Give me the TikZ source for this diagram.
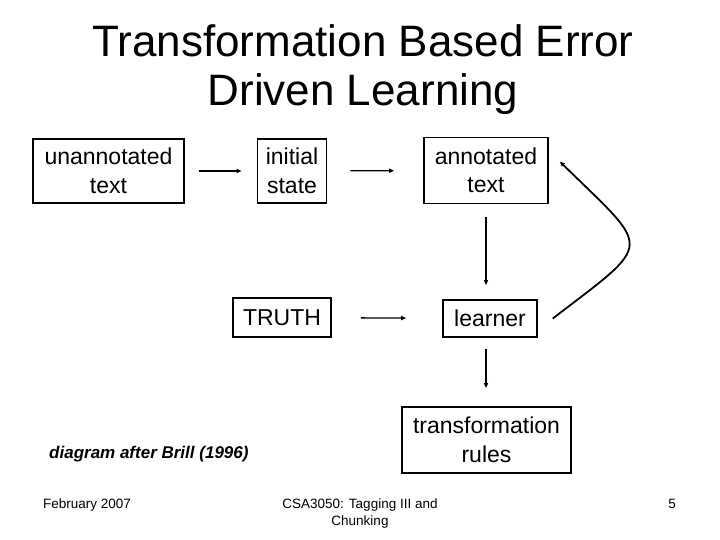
\documentclass[tikz,border=0pt]{standalone}
\usepackage{fontspec}
\setmainfont{Liberation Sans}
\usetikzlibrary{arrows.meta}
\begin{document}
\begin{tikzpicture}[x=1pt,y=-1pt,
  box/.style={draw,line width=1.6pt,inner sep=0pt,align=center,
    font=\fontsize{23}{28.5}\selectfont},
  arr/.style={line width=1.3pt,-{Triangle[length=5pt,width=4pt]}},
  foot/.style={font=\fontsize{13.5}{17}\selectfont,inner sep=0pt,anchor=base}]
\useasboundingbox (0,0) rectangle (720,540);
\node[anchor=base,inner sep=0pt,font=\fontsize{44}{50}\selectfont] (t1) at (363,57) {Transformation Based Error};
\node[anchor=base,inner sep=0pt,font=\fontsize{44}{50}\selectfont] (t2) at (363,106) {Driven Learning};

\node[box,minimum width=151pt,minimum height=64pt] (ua) at (108.5,171) {unannotated\\text};
\node[box,minimum width=69pt,minimum height=64pt] (init) at (292,171) {initial\\state};
\node[box,minimum width=124pt,minimum height=66pt] (ann) at (486,170.5) {annotated\\text};
\node[box,minimum width=98pt,minimum height=39pt] (truth) at (282,317.5) {TRUTH};
\node[box,minimum width=94pt,minimum height=37pt] (lrn) at (490,318.5) {learner};
\node[box,minimum width=169pt,minimum height=66pt] (tr) at (486.5,440) {transformation\\rules};

\draw[arr,shorten <=14pt,shorten >=15pt] (ua) -- (init);
\draw[arr,shorten <=23pt,shorten >=29pt] (init) -- (ann);
\draw[arr,shorten <=13pt,shorten >=14pt] (ann.south) -- (ann.south |- lrn.north);
\draw[arr,shorten <=29pt,shorten >=36pt] (truth) -- (lrn);
\draw[arr,shorten <=11pt,shorten >=18pt] (ann.south |- lrn.south) -- (ann.south |- tr.north);
\draw[arr,line width=1.8pt] ([xshift=15pt]lrn.east) .. controls (655,240) and (652,252) .. ([xshift=11pt,yshift=9pt]ann.east);

\node[anchor=base west,inner sep=0pt,font=\fontsize{17}{20}\selectfont\bfseries\itshape] (cap) at (49,458) {diagram after Brill (1996)};

\node[foot,anchor=base west] (date) at (43,508) {February 2007};
\node[foot,align=center,anchor=base] (course) at (360,525) {CSA3050: Tagging III and\\Chunking};
\node[foot] (pg) at (672,508) {5};
\end{tikzpicture}
\end{document}
